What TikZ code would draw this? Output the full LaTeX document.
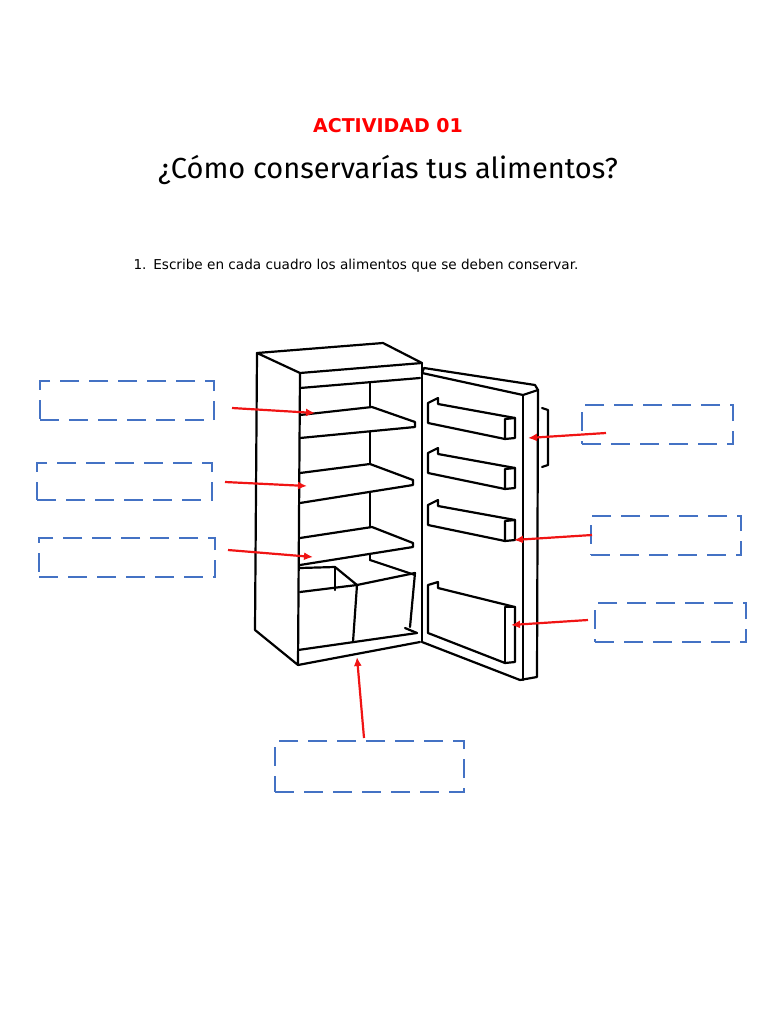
\documentclass[tikz,border=0pt]{standalone}
\usepackage{fontspec}
\setmainfont{DejaVu Sans}
\newfontfamily\titlefont{Fira Sans}
\usetikzlibrary{arrows.meta}
\definecolor{bxblue}{RGB}{68,114,196}
\definecolor{arrred}{RGB}{240,20,20}
\tikzset{
 ansbox/.style={draw=bxblue,line width=2.6pt,dash pattern=on 19pt off 10pt},
 redarr/.style={draw=arrred,line width=2.2pt,-{Latex[length=9pt,width=8pt]}},
 ln/.style={line width=2.2pt,line join=round,line cap=round},
}
\begin{document}
\begin{tikzpicture}[x=1pt,y=-1pt]
\useasboundingbox (0,0) rectangle (768,1024);
\node[text=red,font=\bfseries\fontsize{19}{22}\selectfont] (t1) at (388,126) {ACTIVIDAD 01};
\node[font=\titlefont\fontsize{29}{33}\selectfont] (t2) at (388,170) {¿Cómo conservarías tus alimentos?};
\node[font=\fontsize{13.6}{16}\selectfont] (t3) at (356,266) {1.\enspace Escribe en cada cuadro los alimentos que se deben conservar.};
% fridge body
\draw[ln] (257,353) -- (383,343) -- (422,363) -- (300,373) -- cycle;
\draw[ln] (257,353) -- (255,630) -- (298,665) -- (300,373);
\draw[ln] (300,388) -- (420,378);
\draw[ln] (422,363) -- (422,642);
\draw[ln] (298,665) -- (420,642);
\draw[ln] (298,650) -- (417,633);
\draw[ln] (370,383) -- (370,407);
\draw[ln] (370,432) -- (370,464);
\draw[ln] (370,492) -- (370,527);
\draw[ln] (370,555) -- (370,560);
% shelves
\draw[ln] (300,415) -- (372,407) -- (415,422) -- (415,427) -- (300,438);
\draw[ln] (300,473) -- (370,464) -- (413,480) -- (413,485) -- (300,503);
\draw[ln] (300,538) -- (372,527) -- (413,543) -- (413,547) -- (300,565);
% drawers
\draw[ln] (300,592) -- (357,585) -- (353,642);
\draw[ln] (357,585) -- (415,573) -- (410,627);
\draw[ln] (300,568) -- (335,567) -- (357,585);
\draw[ln] (335,567) -- (335,590);
\draw[ln] (370,560) -- (415,575);
\draw[ln] (405,628) -- (417,633);
% door
\draw[ln] (422,373) -- (424,368) -- (535,385) -- (538,390) -- (537,677) -- (520,680) -- (422,642);
\draw[ln] (422,373) -- (523,395) -- (538,390);
\draw[ln] (523,395) -- (523,680);
\draw[ln] (542,408) -- (548,410) -- (548,465) -- (542,467);
% door bins
\foreach \dy in {0,50,102}{
 \draw[ln] (428,403+\dy) -- (438,398+\dy) -- (438,404+\dy) -- (515,418+\dy) -- (515,438+\dy) -- (505,439+\dy) -- (428,423+\dy) -- cycle;
 \draw[ln] (505,439+\dy) -- (505,419+\dy) -- (515,418+\dy);
}
\draw[ln] (428,585) -- (438,582) -- (438,588) -- (515,607) -- (515,662) -- (505,663) -- (428,633) -- cycle;
\draw[ln] (505,663) -- (505,607) -- (515,607);
% boxes
\node[ansbox,minimum width=174pt,minimum height=39pt] (b1) at (127,400.5) {};
\node[ansbox,minimum width=175pt,minimum height=37pt] (b2) at (124.5,481.5) {};
\node[ansbox,minimum width=176pt,minimum height=39pt] (b3) at (127,557.5) {};
\node[ansbox,minimum width=151pt,minimum height=39pt] (b4) at (657.5,424.5) {};
\node[ansbox,minimum width=150pt,minimum height=39pt] (b5) at (666,535.5) {};
\node[ansbox,minimum width=151pt,minimum height=39pt] (b6) at (670.5,622.5) {};
\node[ansbox,minimum width=189pt,minimum height=51pt] (b7) at (369.5,766.5) {};
% arrows
\coordinate (s1) at (232,408); \coordinate (e1) at (315,413);
\coordinate (s2) at (225,482); \coordinate (e2) at (307,486);
\coordinate (s3) at (228,550); \coordinate (e3) at (313,557);
\coordinate (s4) at (606,433); \coordinate (e4) at (528,438);
\coordinate (s5) at (592,535); \coordinate (e5) at (514,540);
\coordinate (s6) at (588,620); \coordinate (e6) at (511,625);
\coordinate (s7) at (364,738); \coordinate (e7) at (357,657);
\foreach \i in {1,...,7}{\draw[redarr] (s\i) -- (e\i);}
\end{tikzpicture}
\end{document}
